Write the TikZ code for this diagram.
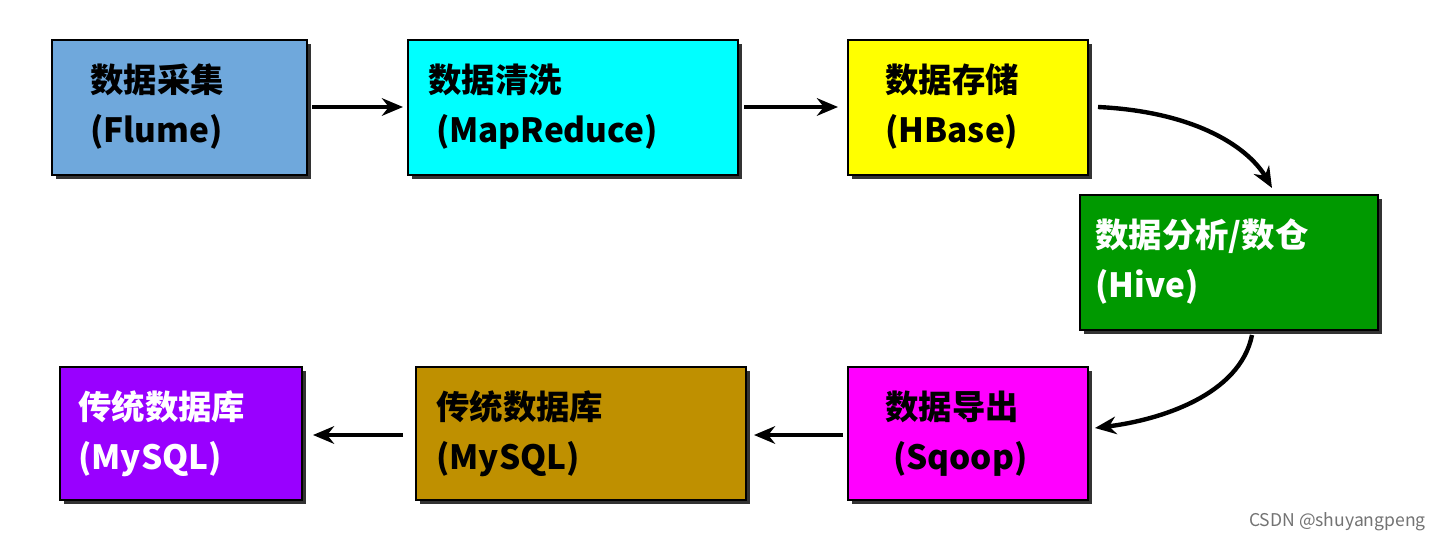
\documentclass[tikz,border=0pt]{standalone}
\usepackage{fontspec}
\setmainfont{Noto Sans CJK SC}
\usetikzlibrary{shadows,arrows.meta}
\definecolor{c1}{HTML}{6FA8DC}
\definecolor{c2}{HTML}{00FFFF}
\definecolor{c3}{HTML}{FFFF00}
\definecolor{c4}{HTML}{009900}
\definecolor{c5}{HTML}{FF00FF}
\definecolor{c6}{HTML}{BF9000}
\definecolor{c7}{HTML}{9900FF}
\begin{document}
\begin{tikzpicture}[x=0.02cm,y=-0.02cm,
 box/.style={draw=black,line width=1.5pt,drop shadow={shadow xshift=0.08cm,shadow yshift=-0.08cm,fill=black!80,opacity=1}},
 txt/.style={anchor=west,align=left,inner sep=0pt,font=\bfseries\fontsize{19}{28.5}\selectfont},
 arr/.style={-{Stealth[length=12pt,width=10pt]},line width=2.5pt}]
\useasboundingbox (0,0) rectangle (1446,540);
\fill[white] (0,0) rectangle (1446,540);
\draw[box,fill=c1] (52,40) rectangle (307,175);
\draw[box,fill=c2] (408,40) rectangle (738,175);
\draw[box,fill=c3] (848,40) rectangle (1088,175);
\draw[box,fill=c4] (1080,195) rectangle (1378,330);
\draw[box,fill=c5] (848,367) rectangle (1088,500);
\draw[box,fill=c6] (416,367) rectangle (746,500);
\draw[box,fill=c7] (60,367) rectangle (302,500);
\node[txt] (t1) at (90,107) {数据采集\\(Flume)};
\node[txt] (t2) at (428,107) {数据清洗\\\ (MapReduce)};
\node[txt] (t3) at (885,107) {数据存储\\(HBase)};
\node[txt,text=white] (t4) at (1095,262) {数据分析/数仓\\(Hive)};
\node[txt] (t5) at (885,434) {数据导出\\\ (Sqoop)};
\node[txt] (t6) at (436,434) {传统数据库\\(MySQL)};
\node[txt,text=white] (t7) at (78,434) {传统数据库\\(MySQL)};
\coordinate (a1) at (312,107); \coordinate (b1) at (403,107);
\coordinate (a2) at (744,107); \coordinate (b2) at (838,107);
\coordinate (a3) at (1098,107); \coordinate (b3) at (1272,188);
\coordinate (a4) at (1252,335); \coordinate (b4) at (1095,428);
\coordinate (a5) at (843,435); \coordinate (b5) at (754,435);
\coordinate (a6) at (403,435); \coordinate (b6) at (313,435);
\draw[arr] (a1) -- (b1);
\draw[arr] (a2) -- (b2);
\draw[arr] (a3) .. controls (1200,112) and (1250,150) .. (b3);
\draw[arr] (a4) .. controls (1240,395) and (1160,420) .. (b4);
\draw[arr] (a5) -- (b5);
\draw[arr] (a6) -- (b6);
\node[anchor=east,text=black!55,font=\fontsize{10}{12}\selectfont] (wm) at (1432,522) {CSDN @shuyangpeng};
\end{tikzpicture}
\end{document}
